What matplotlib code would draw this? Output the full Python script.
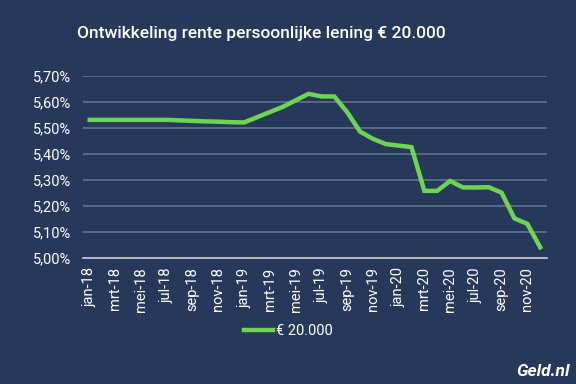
import matplotlib
matplotlib.use("Agg")
import matplotlib.pyplot as plt
from matplotlib.ticker import FuncFormatter

plt.rcParams['font.family'] = ['Roboto', 'DejaVu Sans']

# maandlabels jan-18 .. dec-20
maanden = ['jan', 'feb', 'mrt', 'apr', 'mei', 'jun',
           'jul', 'aug', 'sep', 'okt', 'nov', 'dec']
jaren = ['18', '19', '20']
labels = [m + '-' + j for j in jaren for m in maanden]

rente = [5.53, 5.53, 5.53, 5.53, 5.53, 5.53,
         5.53, 5.528, 5.526, 5.524, 5.523, 5.521,
         5.52, 5.54, 5.56, 5.58, 5.605, 5.63,
         5.62, 5.62, 5.56, 5.485, 5.457, 5.437,
         5.431, 5.425, 5.257, 5.257, 5.295, 5.27,
         5.27, 5.271, 5.25, 5.151, 5.13, 5.04]

bg = '#27395a'
groen = '#6dd551'

fig = plt.figure(figsize=(5.76, 3.84), dpi=100, facecolor=bg)
ax = fig.add_axes([0.1446, 0.329, 0.8044, 0.474], facecolor=bg)

x = list(range(len(rente)))
ax.plot(x, rente, color=groen, lw=3.2, solid_joinstyle='miter', label='€ 20.000')

ax.set_xlim(-0.5, len(rente) - 0.5)
ax.set_ylim(5.0, 5.7)
ax.set_yticks([5.0 + 0.1 * i for i in range(8)])
ax.yaxis.set_major_formatter(FuncFormatter(lambda v, p: ('%.2f%%' % v).replace('.', ',')))
ax.set_xticks(x[::2])
ax.set_xticklabels(labels[::2], rotation=90)

ax.grid(axis='y', color='#5f6c87', lw=1.3)
ax.set_axisbelow(True)
for s in ['top', 'right', 'left']:
    ax.spines[s].set_visible(False)
ax.spines['bottom'].set_color('#c9cdd6')
ax.spines['bottom'].set_linewidth(1.2)
ax.tick_params(axis='both', length=0, colors='white', labelsize=10.5)
ax.tick_params(axis='y', pad=9)
ax.tick_params(axis='x', pad=7)

fig.text(0.453, 0.912, 'Ontwikkeling rente persoonlijke lening € 20.000',
         ha='center', va='center', color='white', fontsize=12.5, fontweight='medium')

leg = fig.legend(loc='center', bbox_to_anchor=(0.5, 0.139), frameon=False,
                 fontsize=10.5, handlelength=2.0, handletextpad=0.2)
for t in leg.get_texts():
    t.set_color('white')

fig.text(0.99, 0.032, 'Geld.nl', ha='right', va='center', color='white',
         fontsize=12.5, fontweight='bold', fontstyle='italic')

fig.savefig('out.png', dpi=100, facecolor=bg)
